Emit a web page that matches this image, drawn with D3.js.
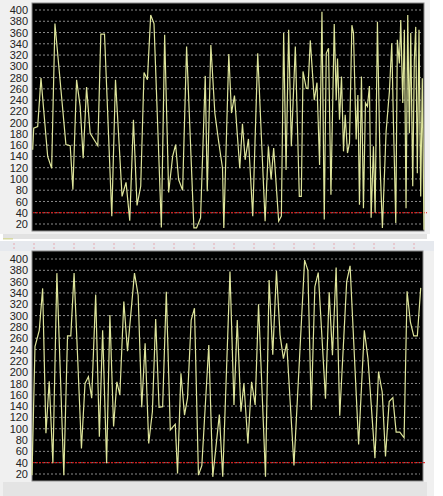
<!DOCTYPE html>
<html>
<head>
<meta charset="utf-8">
<script src="https://cdn.jsdelivr.net/npm/d3@7"></script>
<style>
  body { margin: 0; background: #fff; }
  svg { display: block; font-family: "Segoe UI", "DejaVu Sans", sans-serif; }
</style>
</head>
<body>
<svg id="chart" width="443" height="496"></svg>
<script>
// sample position, value
const topX = [31.7,32.7,36.7,40,46.7,50.7,54,65,69.3,72,75.7,79.3,82.3,85.7,89.3,97,100,103.7,111,114.7,121.3,125.3,129,132.7,136.3,140,143.3,146.7,150,153.3,160.7,164,168,172,175,178,182,186,193.3,196,200,204.7,206.7,210.3,214.3,218.3,222,223.3,228.3,231,234,239.3,242,244.7,248,252.3,257.3,264.7,268,270.7,273.3,278.3,281,283.3,285.7,288.3,291,295,299,301,302.7,306,307.7,310,314,316.7,319.3,321.7,324,326,328.3,330.7,334,336,337.3,339.3,341.3,343.3,345,347.3,349.3,351.7,353.3,356,357.7,359.3,361.3,363.3,365.3,367.3,369.3,371,373.3,375,377.3,380,382.3,386,389.3,391.7,393.3,395.7,397.3,399.3,400.7,402.7,404.3,406,407.7,409.3,410.7,412.7,414.3,415.7,417.3,419,420.7,422.3,424];
const topV = [152,190,193,279,140,119,376,161,159,81,276,229,137,263,181,159,357,357,34,276,69,94,26,205,53,87,289,276,391,376,14,356,76,140,161,99,80,335,13,13,31,283,78,338,217,164,119,13,322,217,248,119,198,134,171,34,323,25,158,99,155,25,34,359,116,365,158,335,69,69,291,261,261,346,240,271,125,397,28,323,332,72,375,240,314,205,282,149,214,146,164,373,359,170,249,54,282,48,235,229,265,31,158,40,379,122,13,184,255,341,205,22,347,305,382,235,365,48,391,181,359,87,311,370,110,365,69,279,10];

const botX = [31,34,38.3,41.7,45,48.3,52,56,63,66.7,70,73.3,80.7,84.3,87.7,91,95,98.7,102,106,109.3,113,116.3,119.3,123.3,127,134,137.7,141.3,144.7,148.3,152,155.3,158.7,162.3,166,170,175,177.3,180.7,184.3,187.3,191,194.3,198.3,201.7,208.7,212.7,219.3,222.7,230,234,237.3,241,244,248,251.7,255.3,258.7,265.7,269.3,273,276.7,280.3,283.7,287,294.3,305,308.3,311.7,315.3,318.7,326,329.7,333,336.7,340.3,347.3,350.7,359.3,365,368.7,375.7,379.3,383,386.3,390,393.7,397,400.7,405,408,411.3,414.7,418.3,421.7];
const botV = [18,245,274,348,92,184,39,375,18,264,264,375,65,180,192,154,337,86,274,39,301,104,183,160,325,237,375,336,138,251,74,130,294,138,139,342,98,108,21,198,124,154,292,313,18,35,248,15,125,15,378,142,292,130,180,74,183,142,320,15,363,231,379,266,224,251,35,398,380,133,351,376,153,341,230,385,123,360,388,72,274,224,48,201,165,51,148,155,94,94,84,343,289,264,264,349];

const yTicks = d3.range(20, 401, 20);
const limit = 40;

const svg = d3.select('#chart');

// panel backgrounds
svg.append('rect').attr('x', 0).attr('y', 0).attr('width', 430).attr('height', 234).attr('fill', '#f0f0f0');
svg.append('rect').attr('x', 3).attr('y', 234).attr('width', 424).attr('height', 5).attr('fill', '#e2e2e2');
svg.append('rect').attr('x', 3).attr('y', 238).attr('width', 10).attr('height', 1.5).attr('fill', '#d6d9a0');
svg.append('rect').attr('x', 0).attr('y', 241).attr('width', 434).attr('height', 10).attr('fill', '#e6e9ee');
svg.append('rect').attr('x', 0).attr('y', 251).attr('width', 434).attr('height', 245).attr('fill', '#f0f0f0');
svg.append('rect').attr('x', 3).attr('y', 482).attr('width', 424).attr('height', 14).attr('fill', '#e4e4e4');

// pink ticks on the strip between the charts
svg.selectAll('.strip').data(d3.range(14, 430, 20)).enter().append('line')
  .attr('x1', d => d).attr('x2', d => d).attr('y1', 243).attr('y2', 250)
  .attr('stroke', '#e8a8b0').attr('stroke-dasharray', '2,2');

function drawChart(xs, vs, box, yr) {
  const x = d3.scaleLinear().domain([31, 424]).range([box.x0, box.x1]);
  const y = d3.scaleLinear().domain([20, 400]).range(yr);

  svg.append('rect').attr('x', box.x0).attr('y', box.y0)
    .attr('width', box.x1 - box.x0).attr('height', box.y1 - box.y0)
    .attr('fill', '#000').attr('stroke', '#888').attr('stroke-width', 1);

  const g = svg.append('g');
  g.selectAll('.grid').data(yTicks).enter().append('line')
    .attr('x1', box.x0 + 3).attr('x2', box.x1 - 3)
    .attr('y1', d => y(d)).attr('y2', d => y(d))
    .attr('stroke', '#8a8a8a').attr('stroke-dasharray', '2,2');

  g.append('line')
    .attr('x1', box.x0 + 1).attr('x2', box.x1 + 3)
    .attr('y1', y(limit)).attr('y2', y(limit))
    .attr('stroke', '#e01010').attr('stroke-dasharray', '2,1');

  const axis = d3.axisLeft(y).tickValues(yTicks).tickSize(0).tickPadding(3);
  const ax = svg.append('g').attr('transform', `translate(${box.x0 - 1},0)`).call(axis);
  ax.select('.domain').remove();
  ax.selectAll('text').attr('font-size', 11).attr('fill', '#222');

  const line = d3.line().x((d, i) => x(xs[i])).y(d => y(d));
  svg.append('path').datum(vs)
    .attr('d', line)
    .attr('fill', 'none')
    .attr('stroke', '#dde49a')
    .attr('stroke-width', 1.2);
}

drawChart(topX, topV, {x0: 32, x1: 424, y0: 3, y1: 231}, [224, 10]);
drawChart(botX, botV, {x0: 32, x1: 423, y0: 251, y1: 481}, [474, 259]);
</script>
</body>
</html>
